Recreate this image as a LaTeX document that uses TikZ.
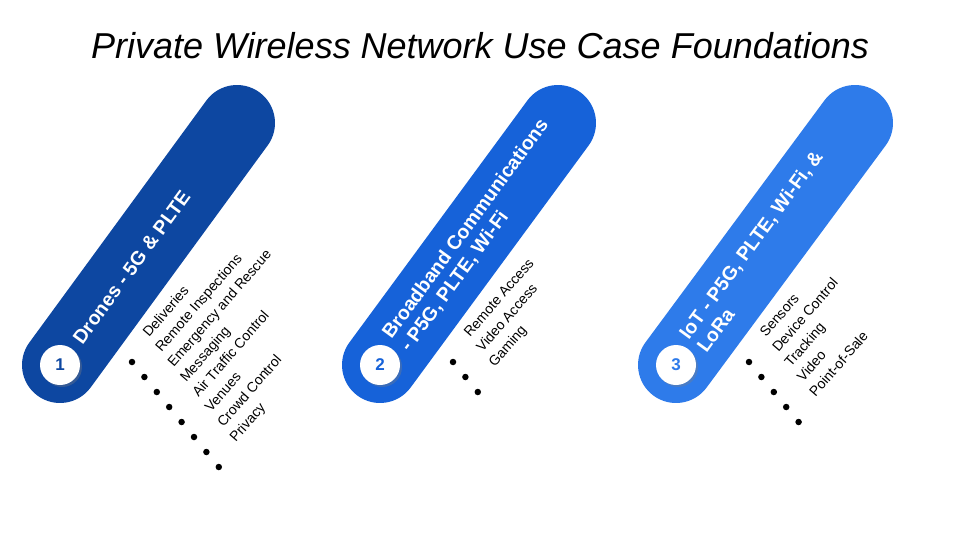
\documentclass[tikz,border=0pt]{standalone}
\usepackage{fontspec}
\setmainfont{Liberation Sans}
\usetikzlibrary{shadows,calc}
\definecolor{cA}{HTML}{0D47A1}
\definecolor{cB}{HTML}{1662D9}
\definecolor{cC}{HTML}{2E7BEA}
\tikzset{
  pill/.style={line width=76pt, line cap=round},
  numcirc/.style={circle, fill=white, minimum size=40pt, inner sep=0pt, font=\fontsize{17}{17}\selectfont\bfseries, drop shadow={shadow xshift=2pt, shadow yshift=-2pt, opacity=0.35}},
  pilltext/.style={anchor=west, rotate=53.8, text=white, font=\fontsize{19.5}{22}\selectfont\bfseries, align=left, inner sep=0pt},
  item/.style={anchor=base west, rotate=49, font=\fontsize{14}{14}\selectfont, inner sep=0pt},
  dot/.style={circle, fill=black, minimum size=6.5pt, inner sep=0pt},
}
\newcommand{\biglist}[3]{%
  \foreach \t [count=\i from 0] in {#2} {
    \node[dot] (d#3\i) at ({#1+12.4*\i},{362+15*\i}) {};
    \node[item] (t#3\i) at ({#1+12.4*\i+17},{362+15*\i-24}) {\t};
  }
}
\begin{document}
\begin{tikzpicture}[x=1pt,y=-1pt]
\useasboundingbox (0,0) rectangle (960,540);
\node (title) at (480,46) {\fontsize{36}{36}\selectfont\itshape Private Wireless Network Use Case Foundations};
% pill 1
\coordinate (a1) at (60,365); \coordinate (b1) at (237,123);
\draw[pill, cA] (a1) -- (b1);
\node[numcirc, text=cA] (n1) at (a1) {1};
\node[pilltext] (p1) at ($(a1)!29pt!(b1)$) {Drones - 5G \& PLTE};
% pill 2
\coordinate (a2) at (380,365); \coordinate (b2) at (558,123);
\draw[pill, cB] (a2) -- (b2);
\node[numcirc, text=cB] (n2) at (a2) {2};
\node[pilltext] (p2) at ($(a2)!27pt!(b2)$) {Broadband Communications\\- P5G, PLTE, Wi-Fi};
% pill 3
\coordinate (a3) at (676,365); \coordinate (b3) at (855,123);
\draw[pill, cC] (a3) -- (b3);
\node[numcirc, text=cC] (n3) at (a3) {3};
\node[pilltext] (p3) at ($(a3)!27pt!(b3)$) {IoT - P5G, PLTE, Wi-Fi, \&\\LoRa};
% lists
\biglist{132}{Deliveries,Remote Inspections,Emergency and Rescue,Messaging,Air Traffic Control,Venues,Crowd Control,Privacy}{A}
\biglist{453}{Remote Access,Video Access,Gaming}{B}
\biglist{749}{Sensors,Device Control,Tracking,Video,Point-of-Sale}{C}
\end{tikzpicture}
\end{document}
